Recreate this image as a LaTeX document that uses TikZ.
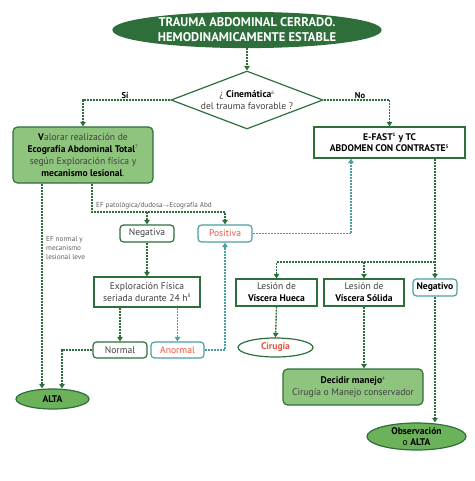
\documentclass[tikz,border=0pt]{standalone}
\usepackage{fontspec}
\setmainfont{PT Sans}
\usetikzlibrary{shapes.geometric,arrows.meta}
\definecolor{dgreen}{HTML}{2E6E3A}
\definecolor{lgreen}{HTML}{8FC47E}
\definecolor{mgreen}{HTML}{6BB25A}
\definecolor{tealc}{HTML}{4A9FA0}
\definecolor{redt}{HTML}{E9553F}
\definecolor{grayt}{HTML}{404040}
\newcommand{\sups}[1]{\textsuperscript{\tiny #1}}
\begin{document}
\begin{tikzpicture}[x=1pt,y=-1pt,
  base/.style={inner sep=0pt, align=center, font=\fontsize{9.6}{11.8}\selectfont, text=grayt},
  bbase/.style={base, text=black, font=\fontsize{9.6}{11.8}\selectfont\bfseries},
  rbox/.style={base, draw=dgreen, line width=1.2pt, rounded corners=3.5pt, fill=white},
  sbox/.style={base, draw=dgreen, line width=1.2pt, fill=white},
  tbox/.style={base, draw=tealc, line width=1.2pt, rounded corners=3.5pt, fill=white, text=redt},
  ell/.style={base, ellipse, draw=dgreen, line width=1.2pt},
  link/.style={draw=dgreen, line width=1.4pt, dash pattern=on 2pt off 1pt},
  arr/.style={link, -{Triangle[width=5.5pt,length=4.5pt]}},
  tarr/.style={link, draw=tealc, -{Triangle[width=5.5pt,length=4.5pt]}},
  lab/.style={inner sep=0pt, font=\fontsize{7.2}{9}\selectfont, text=grayt!85, align=left}
]
\useasboundingbox (0,0) rectangle (474,481);

\node[ell, fill=dgreen, text=white, minimum width=268, minimum height=35,
  font=\fontsize{12.6}{15}\selectfont\bfseries] (top) at (247,30)
  {TRAUMA ABDOMINAL CERRADO.\\HEMODINAMICAMENTE ESTABLE};

\node[base, diamond, draw=dgreen, line width=1.2pt, aspect=2.6,
  minimum width=152, minimum height=58] (dia) at (247,100)
  {¿ \textbf{\color{black}Cinemática}\sups{6}\\del trauma favorable ?};

\node[rbox, fill=lgreen, minimum width=140, minimum height=56, rounded corners=4.5pt] (val) at (83,155)
  {{\color{black}\textbf{V}}alorar realización de\\{\color{black}\textbf{Ecografía Abdominal Total}}\sups{7}\\según Exploración física y\\{\color{black}\textbf{mecanismo lesional}}.};

\node[sbox, bbase, minimum width=151, minimum height=31] (efast) at (389.5,142.5)
  {E-FAST\sups{1} y TC\\ABDOMEN CON CONTRASTE\sups{5}};

\node[rbox, minimum width=54, minimum height=17] (neg) at (147,233.5) {Negativa};
\node[tbox, minimum width=54, minimum height=17] (pos) at (225,233.5) {Positiva};

\node[sbox, minimum width=106, minimum height=30] (expl) at (147,292)
  {Exploración Física\\seriada durante 24 h\sups{8}};

\node[rbox, minimum width=54, minimum height=16] (normal) at (120,350) {Normal};
\node[tbox, minimum width=53, minimum height=16] (anormal) at (177.5,350) {Anormal};

\node[ell, bbase, fill=mgreen, minimum width=73, minimum height=20] (alta) at (52.5,399) {ALTA};

\node[sbox, minimum width=81, minimum height=27] (hueca) at (276.5,292.5)
  {Lesión de\\{\color{black}\textbf{Víscera Hueca}}};
\node[sbox, minimum width=80, minimum height=27] (solida) at (364,292.5)
  {Lesión de\\{\color{black}\textbf{Víscera Sólida}}};
\node[rbox, bbase, draw=tealc, minimum width=44, minimum height=17] (negativo) at (435,287.5) {Negativo};

\node[ell, bbase, fill=white, minimum width=75, minimum height=19, text=redt] (cirugia) at (275.5,347.5) {Cirugía};

\node[rbox, fill=lgreen, minimum width=140, minimum height=36, rounded corners=4.5pt] (decidir) at (353,387)
  {{\color{black}\textbf{Decidir manejo}}\sups{4}\\Cirugía o Manejo conservador};

\node[ell, fill=mgreen, minimum width=99, minimum height=27, text=black] (obs) at (416.5,436.5)
  {\textbf{Observación}\\o \textbf{ALTA}};

% coordinates
\coordinate (c42) at (42,0);
\coordinate (c62) at (62,0);
\coordinate (j1) at (92,212);
\coordinate (c351) at (351,0);
\coordinate (j2) at (0,262);

% connectors
\draw[arr] (top.south) -- (dia.north);
\draw[arr] (dia.west) -| (val.north);
\draw[arr] (dia.east) -| (efast.north);
\node[inner sep=0pt, anchor=south, font=\fontsize{8.5}{9}\selectfont\bfseries] (si) at (125,98.5) {Sí};
\node[inner sep=0pt, anchor=south, font=\fontsize{8.5}{9}\selectfont\bfseries] (no) at (360,98.5) {No};

\draw[arr] (val.south -| c42) -- (alta.north -| c42);
\node[lab, anchor=north west] (efn) at (46,236) {EF normal y\\mecanismo\\lesional leve};

\draw[arr] (val.south -| j1) -- (j1) -| (pos.north);
\draw[arr] (neg.north |- j1) -- (neg.north);
\node[lab, anchor=south west] (efp) at (96,209) {EF patológica/dudosa$\scriptstyle\rightarrow$Ecografía Abd};

\draw[arr] (neg.south) -- (expl.north);
\draw[arr] (expl.south -| normal.north) -- (normal.north);
\draw[tarr] (expl.south -| anormal.north) -- (anormal.north);
\draw[tarr] (anormal.east) -| (pos.south);
\draw[tarr] (pos.east) -| (efast.south -| c351);
\draw[arr] (normal.west) -| (alta.north -| c62);

\draw[arr] (efast.south -| negativo.north) -- (negativo.north);
\draw[arr] (negativo.north |- j2) -| (hueca.north);
\draw[arr] (solida.north |- j2) -- (solida.north);
\draw[arr] (hueca.south) -- (cirugia.north);
\draw[arr] (solida.south) -- (solida.south |- decidir.north);
\draw[arr] (negativo.south) -- (negativo.south |- obs.north);
\end{tikzpicture}
\end{document}
